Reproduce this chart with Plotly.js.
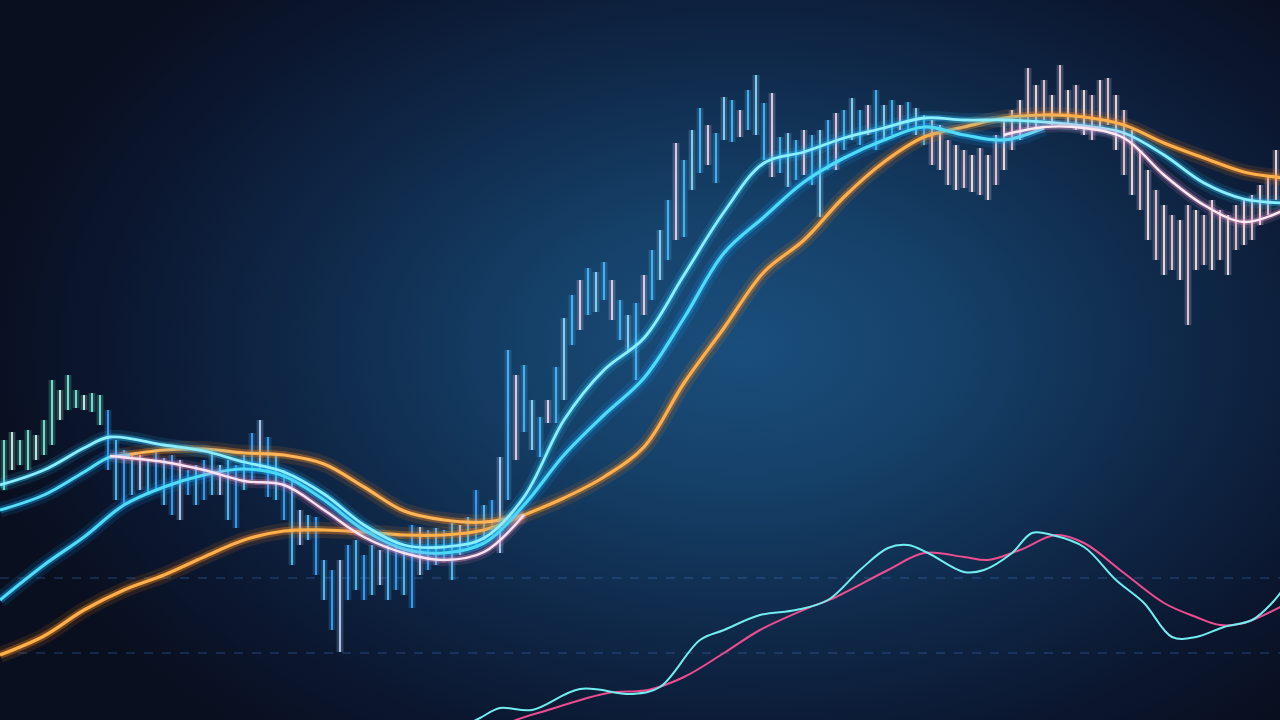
<!DOCTYPE html>
<html>
<head>
<meta charset="utf-8">
<script src="https://cdn.plot.ly/plotly-3.0.1.min.js"></script>
<style>
  html, body { margin: 0; padding: 0; width: 1280px; height: 720px; overflow: hidden; }
  body { background: radial-gradient(ellipse 60% 70% at 58% 48%, #1a4e7c 0%, #154068 28%, #0f2848 58%, #0b1730 82%, #090f1f 100%); }
  #chart { width: 1280px; height: 720px; }
</style>
</head>
<body>
<div id="chart"></div>
<script>
// ---- candle ranges (price units), one bar per session ----
const highs = [280,288,280,290,285,300,340,330,345,330,325,327,325,310,280,270,265,265,260,270,
  262,265,260,250,255,260,270,255,260,255,265,287,300,283,265,250,242,210,205,203,
  160,150,160,175,180,165,175,170,175,180,170,195,193,190,192,190,197,195,203,230,
  215,220,263,370,345,355,320,303,320,353,402,425,440,452,448,458,440,420,405,417,
  445,470,490,520,577,560,590,612,595,587,623,620,610,630,645,617,627,583,587,580,
  590,585,590,600,607,610,622,610,615,630,615,620,615,618,612,605,600,595,580,575,
  570,565,572,565,585,600,610,620,652,635,640,625,655,630,635,630,625,640,642,625,
  610,590,570,550,530,515,505,500,515,510,505,520,510,505,515,520,525,535,545,570];
const lows = [230,250,255,250,260,265,275,300,310,312,310,308,295,250,220,215,225,230,225,230,
  215,205,200,225,215,220,225,225,200,192,230,240,250,223,220,200,155,175,180,145,
  120,90,68,120,130,120,125,135,120,130,125,112,145,150,155,160,140,165,173,175,
  180,185,167,220,260,288,270,263,297,297,320,375,390,405,408,420,400,380,370,340,
  405,420,440,460,480,483,530,547,555,537,580,578,583,590,585,560,543,547,533,540,
  545,535,503,550,550,570,580,575,585,570,580,585,590,590,585,575,555,550,535,530,
  532,528,525,520,535,550,570,580,590,590,600,595,605,595,590,585,580,590,595,570,
  545,525,510,480,460,445,450,440,395,450,455,450,460,445,470,475,480,495,505,520];

// ---- moving averages (session, price) ----
const orangeSlowX = [-0.5,5,10,15,20,25,30,35,40,45,50,55,60,65,70,75,80,85,90,95,100,105,110,115,120,125,130,135,140,145,150,155,160];
const orangeSlowY = [65,84,110,130,145,163,180,189,190,188,185,185,190,205,222,243,273,337,392,448,480,523,558,583,593,602,605,603,595,577,562,548,542];

const orangeFastX = [14.5,20,25,30,35,40,45,50,55,60,65];
const orangeFastY = [264,270,271,267,265,256,233,209,200,198,205];

const cyanFastX = [-0.5,5,10,13.25,20,25,30,35,40,45,50,55,60,65,70,75,80,85,90,95,100,105,110,115,120,125,130,135,140,145,150,155,160];
const cyanFastY = [235,250,272,283,275,269,258,248,226,195,175,173,182,223,300,350,382,445,508,557,568,582,592,602,600,600,598,594,587,565,537,521,517];

const cyanMidX = [-0.5,5,10,15,20,25,30,35,40,45,50,55,60,65,70,75,80,85,90,95,100,105,110,115,120,125,130];
const cyanMidY = [120,155,183,215,233,245,251,244,220,190,171,167,177,215,265,305,342,402,467,503,538,562,580,593,585,580,592];

const cyanLeftX = [-0.5,5,10,13.25,15.75];
const cyanLeftY = [210,225,248,263,264];

const whiteMidX = [13.25,20,25,30,35,40,45,50,55,60,65];
const whiteMidY = [264,258,250,239,235,210,183,167,160,168,205];

const whiteRightX = [125,130,135,140,145,150,155,160];
const whiteRightY = [585,593,592,582,545,515,498,510];

// ---- oscillator (same price scale, lower band) ----
const oscFastX = [57,59.5,62,66,72,78.5,82,87,90,94.5,99,103,107,110.5,113,115.5,120,122.5,126,128.5,131,135,139,142.5,146,149,152.5,156,158.5,160];
const oscFastY = [-8,2,12,10,31,26,33,80,90,105,110,120,150,172,175,167,148,150,167,187,185,173,140,117,83,83,93,100,117,132];
const oscSlowX = [62,64,68,75.5,80.5,85,90,94.5,100.5,104,110.5,115,120,123,127,131.5,135,140,145,149,152,155,160];
const oscSlowY = [-8,0,10,27,30,43,67,90,112,123,150,167,163,160,170,185,177,147,117,103,95,97,115];

const levels = [142, 67];

// ---- build ----
const days = highs.map((_, i) => i);
const spans = highs.map((h, i) => h - lows[i]);
const barColors = days.map(i => {
  if (i < 13) return i % 3 === 1 ? '#c8fff0' : '#7df2d6';
  if (i < 63) return i % 5 === 2 ? '#b8d8ff' : (i % 2 ? '#3aa8ff' : '#55c6ff');
  if (i < 116) return i % 4 === 0 ? '#f0d8f0' : (i % 4 === 2 ? '#8fdcff' : (i % 2 ? '#49bdff' : '#62ccff'));
  return i % 2 ? '#fde9f0' : '#f2d2e2';
});

const traces = [];
traces.push({type:'bar', x: days, base: lows, y: spans, width: 0.85,
  marker:{color: barColors, opacity: 0.22, line:{width:0}}, hoverinfo:'skip', showlegend:false});
traces.push({type:'bar', x: days, base: lows, y: spans, width: 0.22,
  marker:{color: barColors, line:{width:0}}, hoverinfo:'skip', showlegend:false});

function glowLine(x, y, core, glow, w) {
  return [
    {type:'scatter', mode:'lines', x, y, line:{color: glow, width: w*5, shape:'spline', smoothing:1}, opacity:0.12, hoverinfo:'skip', showlegend:false},
    {type:'scatter', mode:'lines', x, y, line:{color: glow, width: w*2.4, shape:'spline', smoothing:1}, opacity:0.35, hoverinfo:'skip', showlegend:false},
    {type:'scatter', mode:'lines', x, y, line:{color: core, width: w, shape:'spline', smoothing:1}, hoverinfo:'skip', showlegend:false}
  ];
}

traces.push(...glowLine(orangeSlowX, orangeSlowY, '#ffb04a', '#ff8a1a', 3.2));
traces.push(...glowLine(orangeFastX, orangeFastY, '#ffb455', '#ff8a1a', 3.2));
traces.push(...glowLine(cyanMidX, cyanMidY, '#4fdcf6', '#1aa8ff', 3.2));
traces.push(...glowLine(cyanLeftX, cyanLeftY, '#56e0f6', '#1aa8ff', 3.0));
traces.push(...glowLine(whiteMidX, whiteMidY, '#f7e4f0', '#ff8ec8', 2.4));
traces.push(...glowLine(cyanFastX, cyanFastY, '#8cefff', '#2ac4ff', 2.8));
traces.push(...glowLine(whiteRightX, whiteRightY, '#fbeaf2', '#ff9ccd', 2.4));

traces.push({type:'scatter', mode:'lines', x: oscSlowX, y: oscSlowY, line:{color:'#f04d90', width:2, shape:'spline', smoothing:1}, hoverinfo:'skip', showlegend:false});
traces.push({type:'scatter', mode:'lines', x: oscFastX, y: oscFastY, line:{color:'#72eef0', width:2, shape:'spline', smoothing:1}, hoverinfo:'skip', showlegend:false});

const shapes = levels.map(v => ({type:'line', xref:'paper', x0:0, x1:1, yref:'y', y0:v, y1:v,
  line:{color:'rgba(70,130,210,0.45)', width:1.2, dash:'dash'}, layer:'below'}));

const layout = {
  width: 1280, height: 720,
  margin: {l:0, r:0, t:0, b:0, pad:0},
  paper_bgcolor: 'rgba(0,0,0,0)',
  plot_bgcolor: 'rgba(0,0,0,0)',
  barmode: 'overlay',
  showlegend: false,
  xaxis: {range:[-0.5, 159.5], visible:false, showgrid:false, zeroline:false, fixedrange:true},
  yaxis: {range:[0, 720], visible:false, showgrid:false, zeroline:false, fixedrange:true},
  shapes: shapes
};

Plotly.newPlot('chart', traces, layout, {displayModeBar:false, staticPlot:true});
</script>
</body>
</html>
